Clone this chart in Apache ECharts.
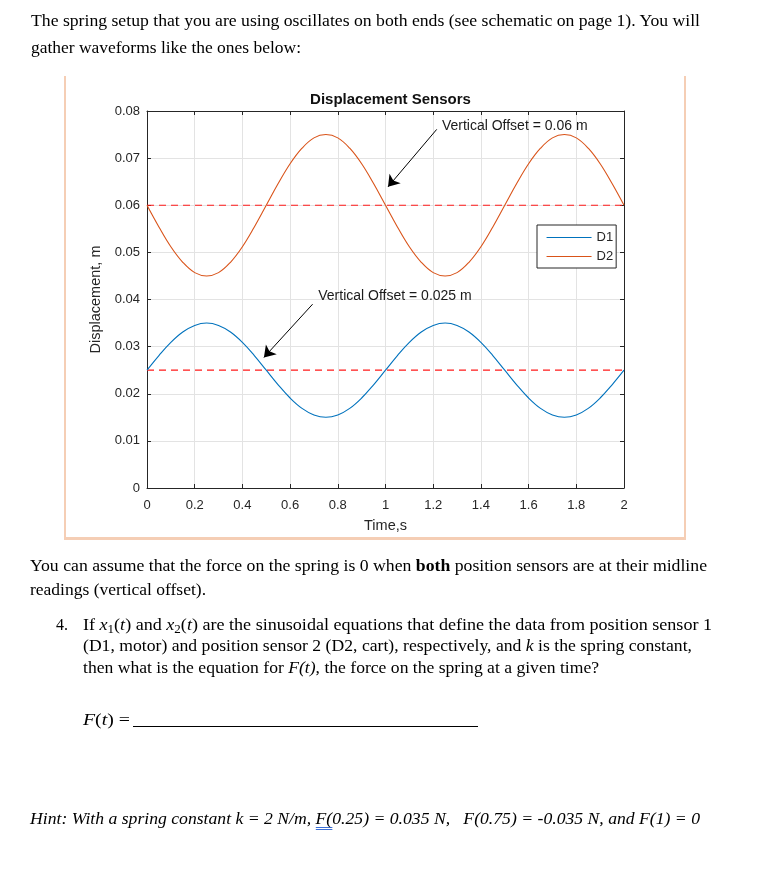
<!DOCTYPE html>
<html>
<head>
<meta charset="utf-8">
<script src="https://cdn.jsdelivr.net/npm/echarts@6/dist/echarts.min.js"></script>
<style>
  html, body { margin: 0; padding: 0; background: #fff; }
  #page { position: relative; width: 762px; height: 882px; overflow: hidden; }
  #chart { position: absolute; left: 0; top: 0; width: 762px; height: 882px; }
  #frame { position: absolute; left: 64px; top: 76px; width: 618px; height: 461px;
           border-left: 2px solid #f5ceb5; border-right: 2px solid #f5ceb5; border-bottom: 3px solid #f5ceb5; }
  .ln { position: absolute; white-space: nowrap; font-family: "Liberation Serif", "Times New Roman", serif;
        font-size: 16px; line-height: 20px; color: #000; transform-origin: 0 50%; }
  .ln sub { font-size: 0.72em; line-height: 0; vertical-align: -0.28em; }
  .m { font-style: italic; }
  .sq { border-bottom: 3px double #3b6fd6; }
  #blank { position: absolute; left: 133px; top: 726px; width: 345px; height: 0; border-top: 1px solid #000; }
</style>
</head>
<body>
<div id="page">
  <div id="frame"></div>
  <div id="chart"></div>

  <div class="ln" style="left:31px;top:11px" data-w="669">The spring setup that you are using oscillates on both ends (see schematic on page 1). You will</div>
  <div class="ln" style="left:31px;top:38px" data-w="270">gather waveforms like the ones below:</div>

  <div class="ln" style="left:30px;top:556px" data-w="677">You can assume that the force on the spring is 0 when <b>both</b> position sensors are at their midline</div>
  <div class="ln" style="left:30px;top:580px" data-w="176">readings (vertical offset).</div>

  <div class="ln" style="left:56px;top:615px">4.</div>
  <div class="ln" style="left:83px;top:615px" data-w="629">If <span class="m">x</span><sub>1</sub>(<span class="m">t</span>) and <span class="m">x</span><sub>2</sub>(<span class="m">t</span>) are the sinusoidal equations that define the data from position sensor 1</div>
  <div class="ln" style="left:83px;top:636px" data-w="609">(D1, motor) and position sensor 2 (D2, cart), respectively, and <i>k</i> is the spring constant,</div>
  <div class="ln" style="left:83px;top:658px" data-w="516">then what is the equation for <i>F(t)</i>, the force on the spring at a given time?</div>

  <div class="ln" style="left:83px;top:710px" data-w="47"><span class="m">F</span>(<span class="m">t</span>) =</div>
  <div id="blank"></div>

  <div class="ln" style="left:30px;top:809px" data-w="670"><i>Hint: With a spring constant k = 2 N/m, <span class="sq">F(</span>0.25) = 0.035 N,&nbsp;&nbsp; F(0.75) = -0.035 N, and F(1) = 0</i></div>
</div>

<script>
// time samples, s
const time = [0, 0.05, 0.1, 0.15, 0.2, 0.25, 0.3, 0.35, 0.4, 0.45,
              0.5, 0.55, 0.6, 0.65, 0.7, 0.75, 0.8, 0.85, 0.9, 0.95,
              1.0, 1.05, 1.1, 1.15, 1.2, 1.25, 1.3, 1.35, 1.4, 1.45,
              1.5, 1.55, 1.6, 1.65, 1.7, 1.75, 1.8, 1.85, 1.9, 1.95, 2.0];

// D1 (motor) displacement, m
const d1 = [0.025, 0.0281, 0.0309, 0.0331, 0.0345, 0.035, 0.0345, 0.0331, 0.0309, 0.0281,
            0.025, 0.0219, 0.0191, 0.0169, 0.0155, 0.015, 0.0155, 0.0169, 0.0191, 0.0219,
            0.025, 0.0281, 0.0309, 0.0331, 0.0345, 0.035, 0.0345, 0.0331, 0.0309, 0.0281,
            0.025, 0.0219, 0.0191, 0.0169, 0.0155, 0.015, 0.0155, 0.0169, 0.0191, 0.0219, 0.025];

// D2 (cart) displacement, m
const d2 = [0.06, 0.0554, 0.0512, 0.0479, 0.0457, 0.045, 0.0457, 0.0479, 0.0512, 0.0554,
            0.06, 0.0646, 0.0688, 0.0721, 0.0743, 0.075, 0.0743, 0.0721, 0.0688, 0.0646,
            0.06, 0.0554, 0.0512, 0.0479, 0.0457, 0.045, 0.0457, 0.0479, 0.0512, 0.0554,
            0.06, 0.0646, 0.0688, 0.0721, 0.0743, 0.075, 0.0743, 0.0721, 0.0688, 0.0646, 0.06];

// vertical offsets (red dashed midlines), drawn across the whole time span
const offsets = [0.06, 0.025];
const offsetSpan = [0, 2];

// annotations, data coords
const noteText = ['Vertical Offset = 0.06 m', 'Vertical Offset = 0.025 m'];
const noteAt = [[1.2365, 0.0767], [0.718, 0.0407]];
const arrowFrom = [[1.2147, 0.0761], [0.6943, 0.039]];
const arrowTo = [[1.0105, 0.0639], [0.4902, 0.0277]];

const xRange = [0, 2, 0.2];
const yRange = [0, 0.08, 0.01];

const c1 = '#0072BD';
const c2 = '#D95319';

function pairs(xs, ys) {
  let result = [];
  for (let i = 0; i < xs.length; i++) {
    result.push([xs[i], ys[i]]);
  }
  return result;
}

// squeeze the document lines to the measured widths
document.querySelectorAll('.ln[data-w]').forEach(function (el) {
  let w = el.getBoundingClientRect().width;
  el.style.transform = 'scaleX(' + (el.dataset.w / w) + ')';
});

const ink = '#262626';
const sans = '"Liberation Sans", Arial, sans-serif';

let myChart = echarts.init(document.getElementById('chart'), null, { renderer: 'canvas' });

let offsetSeries = offsets.map(function (v, i) {
  return {
    name: 'offset' + i,
    type: 'line',
    data: offsetSpan.map(function (t) { return [t, v]; }),
    symbol: 'none',
    silent: true,
    color: '#ff1a1a',
    lineStyle: { color: '#ff1a1a', width: 1.2, type: [7, 5] },
    z: 2
  };
});

let option = {
  animation: false,
  backgroundColor: 'transparent',
  title: {
    text: 'Displacement Sensors',
    left: 385.5,
    top: 87,
    textAlign: 'center',
    textStyle: { fontFamily: sans, fontSize: 15, fontWeight: 'bold', color: '#111' }
  },
  grid: { left: 147, top: 111, width: 477, height: 377 },
  legend: {
    orient: 'vertical',
    left: 537,
    top: 225,
    data: ['D1', 'D2'],
    backgroundColor: '#fff',
    borderColor: ink,
    borderWidth: 1,
    borderRadius: 0,
    padding: [6, 3, 5, 9],
    itemWidth: 45,
    itemHeight: 12,
    itemGap: 6,
    itemStyle: { opacity: 0 },
    lineStyle: { width: 1.1 },
    textStyle: { fontFamily: sans, fontSize: 13, color: ink }
  },
  xAxis: [{
    type: 'value',
    position: 'bottom',
    min: xRange[0], max: xRange[1], interval: xRange[2],
    axisLine: { show: true, lineStyle: { color: ink, width: 1 } },
    axisTick: { inside: true, length: 4, lineStyle: { color: ink } },
    axisLabel: { fontFamily: sans, fontSize: 13, color: ink, margin: 11 },
    splitLine: { show: true, lineStyle: { color: '#e3e3e3', width: 1 } },
    name: 'Time,s',
    nameLocation: 'middle',
    nameGap: 30,
    nameTextStyle: { fontFamily: sans, fontSize: 14.5, color: ink }
  }, {
    type: 'value',
    position: 'top',
    min: xRange[0], max: xRange[1], interval: xRange[2],
    axisLine: { show: true, onZero: false, lineStyle: { color: ink, width: 1 } },
    axisTick: { inside: true, length: 4, lineStyle: { color: ink } },
    axisLabel: { show: false },
    splitLine: { show: false }
  }],
  yAxis: [{
    type: 'value',
    position: 'left',
    min: yRange[0], max: yRange[1], interval: yRange[2],
    axisLine: { show: true, lineStyle: { color: ink, width: 1 } },
    axisTick: { show: true, inside: true, length: 4, lineStyle: { color: ink } },
    axisLabel: { fontFamily: sans, fontSize: 13, color: ink, margin: 7 },
    splitLine: { show: true, lineStyle: { color: '#e3e3e3', width: 1 } },
    name: 'Displacement, m',
    nameLocation: 'middle',
    nameGap: 42,
    nameTextStyle: { fontFamily: sans, fontSize: 14.5, color: ink }
  }, {
    type: 'value',
    position: 'right',
    min: yRange[0], max: yRange[1], interval: yRange[2],
    axisLine: { show: true, onZero: false, lineStyle: { color: ink, width: 1 } },
    axisTick: { show: true, inside: true, length: 4, lineStyle: { color: ink } },
    axisLabel: { show: false },
    splitLine: { show: false }
  }],
  series: [{
    name: 'D1',
    type: 'line',
    data: pairs(time, d1),
    smooth: 0.4,
    symbol: 'none',
    color: c1,
    lineStyle: { color: c1, width: 1.1 },
    z: 3
  }, {
    name: 'D2',
    type: 'line',
    data: pairs(time, d2),
    smooth: 0.4,
    symbol: 'none',
    color: c2,
    lineStyle: { color: c2, width: 1.1 },
    z: 3,
    markLine: {
      silent: true,
      precision: 4,
      symbol: ['none', 'arrow'],
      symbolSize: 11,
      label: { show: false },
      itemStyle: { color: '#000' },
      lineStyle: { color: '#000', width: 1, type: 'solid' },
      data: arrowFrom.map(function (c, i) { return [{ coord: c }, { coord: arrowTo[i] }]; })
    },
    markPoint: {
      silent: true,
      symbol: 'circle',
      symbolSize: 0,
      data: noteAt.map(function (c, i) {
        return {
          coord: c,
          label: {
            show: true,
            position: 'right',
            distance: 0,
            formatter: noteText[i],
            fontFamily: sans,
            fontSize: 14,
            color: '#1a1a1a'
          }
        };
      })
    }
  }].concat(offsetSeries)
};

myChart.setOption(option);
</script>
</body>
</html>
